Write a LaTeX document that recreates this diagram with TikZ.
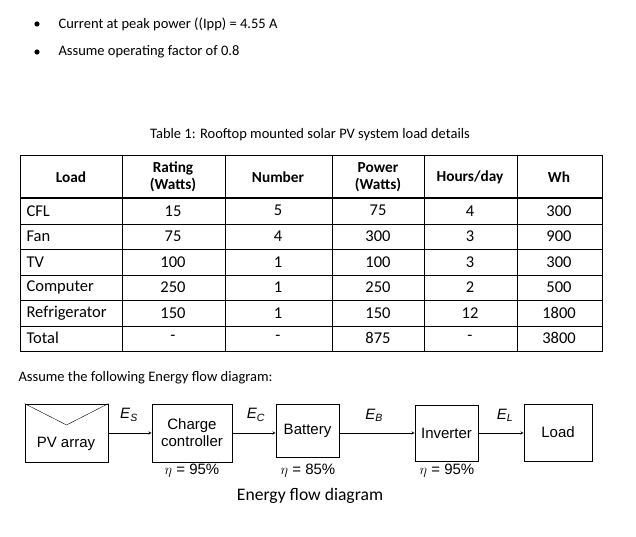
\documentclass[tikz,border=0pt]{standalone}
\usepackage{fontspec}
\setmainfont{Carlito}
\newfontfamily\arialf{Liberation Sans}
\begin{document}
\begin{tikzpicture}[x=1pt,y=-1pt,
  cell/.style={font=\fontsize{16.5}{18}\selectfont},
  hd/.style={font=\bfseries\fontsize{15.3}{17}\selectfont,align=center},
  blk/.style={draw,thick,minimum height=56pt,font=\arialf\fontsize{15}{17}\selectfont,align=center,inner sep=1pt},
  arr/.style={->,>=stealth},
  lab/.style={font=\arialf\itshape\fontsize{15}{17}\selectfont},
  eta/.style={font=\arialf\fontsize{15}{17}\selectfont}]
\useasboundingbox (0,0) rectangle (636,537);
% bullets
\fill (37,24) circle (2.6);
\fill (37,52) circle (2.6);
\node[anchor=west,font=\fontsize{14.5}{16}\selectfont] (b1) at (55,24) {Current at peak power ((Ipp) = 4.55 A};
\node[anchor=west,font=\fontsize{14.5}{16}\selectfont] (b2) at (55,52) {Assume operating factor of 0.8};
\node[font=\fontsize{14.5}{16}\selectfont] (cap) at (310,135) {Table 1: Rooftop mounted solar PV system load details};
% table
\draw[thick] (20,155) rectangle (602,351);
\draw[line width=1.4pt] (20,198) -- (602,198);
\foreach \y in {224,249,275,300,326} \draw (20,\y) -- (602,\y);
\foreach \x in {122,225,332,424,517} \draw (\x,155) -- (\x,351);
\node[hd] (h1) at (71,177) {Load};
\node[hd] (h2) at (173,177) {Rating\\(Watts)};
\node[hd] (h3) at (278,177) {Number};
\node[hd] (h4) at (378,177) {Power\\(Watts)};
\node[hd] (h5) at (470,177) {Hours/day};
\node[hd] (h6) at (559,177) {Wh};
\foreach \n/\a/\b/\c/\d/\e [count=\i] in {CFL/15/5/75/4/300,Fan/75/4/300/3/900,TV/100/1/100/3/300,Computer/250/1/250/2/500,Refrigerator/150/1/150/12/1800,Total/-/-/875/-/3800}{
  \pgfmathsetmacro\yy{198+25.5*\i-12.75}
  \node[cell,anchor=west] at (23,\yy) {\n};
  \node[cell] at (173,\yy) {\a};
  \node[cell] at (278,\yy) {\b};
  \node[cell] at (378,\yy) {\c};
  \node[cell] at (470,\yy) {\d};
  \node[cell] at (559,\yy) {\e};
}
\node[anchor=west,font=\fontsize{14.5}{16}\selectfont] (as) at (15,378) {Assume the following Energy flow diagram:};
% flow diagram
\node[blk,minimum width=83pt,minimum height=58pt] (pv) at (66.5,433) {};
\draw (pv.north west) -- (66.5,425) -- (pv.north east);
\node[font=\arialf\fontsize{15}{17}\selectfont] (pvt) at (66,444) {PV array};
\node[blk,minimum width=80pt,minimum height=58pt] (cc) at (192,433) {Charge\\controller};
\node[blk,minimum width=63pt,minimum height=53pt] (bat) at (307.5,431) {Battery};
\node[blk,minimum width=63pt,minimum height=56pt] (inv) at (446.5,433) {Inverter};
\node[blk,minimum width=68pt,minimum height=57pt] (load) at (558,432.5) {Load};
\draw[arr] (pv.east|-0,433) -- (cc.west|-0,433);
\draw[arr] (cc.east|-0,433) -- (bat.west|-0,433);
\draw[arr] (bat.east|-0,433) -- (inv.west|-0,433);
\draw[arr] (inv.east|-0,433) -- (load.west|-0,433);
\node[lab] (es) at (129,415) {E\textsubscript{S}};
\node[lab] (ec) at (256,415) {E\textsubscript{C}};
\node[lab] (eb) at (374,415) {E\textsubscript{B}};
\node[lab] (el) at (505,415) {E\textsubscript{L}};
\node[eta] (e1) at (192,471) {$\eta$ = 95\%};
\node[eta] (e2) at (308,471) {$\eta$ = 85\%};
\node[eta] (e3) at (447,471) {$\eta$ = 95\%};
\node[font=\fontsize{17.6}{19}\selectfont] (ft) at (310,496) {Energy flow diagram};
\end{tikzpicture}
\end{document}
